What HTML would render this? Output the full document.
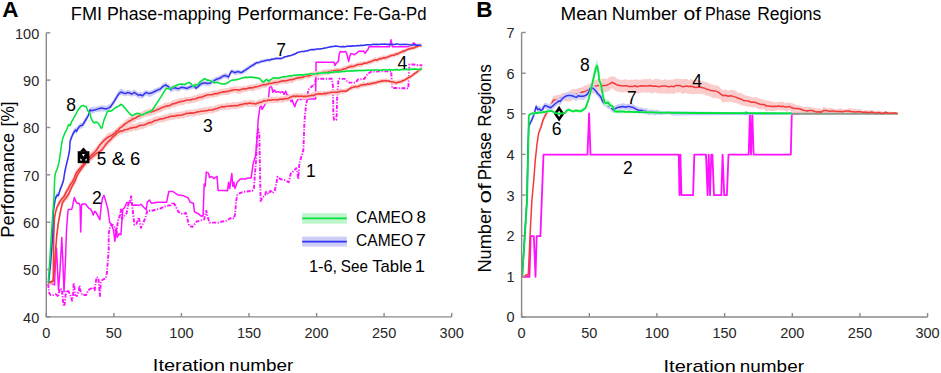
<!DOCTYPE html><html><head><meta charset="utf-8"><style>html,body{margin:0;padding:0;background:#fff;width:941px;height:373px;overflow:hidden}svg{display:block}</style></head><body>
<svg width="941" height="373" viewBox="0 0 941 373" font-family='"Liberation Sans", sans-serif'>
<rect width="941" height="373" fill="#fff"/>
<g fill="none" stroke-linejoin="round" stroke-linecap="butt">
<path d="M48.1,283.8 L49.3,293.2 L50.6,295.0 L53.4,295.0 L55.3,294.1 L57.1,295.0 L58.1,296.9 L59.9,288.5 L61.8,289.4 L62.8,298.8 L63.7,306.3 L64.6,304.4 L65.6,295.0 L66.5,290.3 L68.4,291.3 L70.3,295.0 L72.1,300.7 L73.1,295.0 L73.6,282.8 L74.4,287.5 L75.0,295.0 L76.8,296.0 L78.7,291.3 L79.6,285.6 L80.6,292.2 L82.5,295.0 L86.2,295.0 L88.1,290.3 L90.9,288.5 L92.8,287.5 L94.7,290.3 L96.5,277.2 L98.4,278.1 L99.9,296.0 L100.8,282.8 L102.2,280.0 L104.0,279.1 L105.9,278.1 L106.9,272.5 L107.8,261.3 L108.7,250.0 L108.7,233.8 L109.7,228.2 L111.5,224.4 L113.4,225.3 L115.3,228.2 L116.2,235.7 L117.2,226.3 L118.1,220.6 L120.0,215.0 L120.9,209.4 L121.9,218.8 L123.7,216.9 L126.6,213.1 L128.4,203.8 L130.3,200.0 L131.2,196.3 L132.3,206.5 L134.4,224.7 L136.6,223.6 L138.7,217.2 L140.9,227.9 L143.0,223.6 L145.2,218.3 L147.3,210.8 L151.6,210.8 L155.9,209.7 L160.2,208.6 L164.5,206.5 L168.8,205.4 L170.9,205.4 L173.0,202.2 L175.2,205.4 L178.4,211.8 L182.7,214.0 L185.9,212.9 L189.1,225.8 L192.4,226.9 L196.7,221.5 L200.9,220.4 L204.2,219.4 L206.3,210.8 L207.4,216.1 L209.5,222.6 L218.1,222.6 L220.0,221.9 L226.4,220.8 L229.7,218.7 L231.8,217.6 L233.9,218.7 L235.0,214.4 L236.1,201.5 L237.2,195.1 L240.4,192.9 L243.6,191.8 L252.2,190.8 L253.9,188.6 L254.8,175.8 L256.1,160.0 L257.2,135.0 L258.1,129.0 L259.3,134.4 L260.6,201.0 L262.9,197.2 L265.1,195.1 L266.1,191.8 L268.3,194.0 L270.4,190.8 L272.6,192.9 L274.7,190.8 L276.2,184.3 L277.5,176.8 L280.1,179.0 L284.4,180.0 L288.7,182.2 L290.8,173.6 L293.0,171.5 L296.2,168.2 L297.3,171.5 L298.3,179.0 L299.4,162.9 L301.5,156.4 L303.4,150.0 L304.4,122.4 L305.0,115.0 L306.1,104.0 L307.2,99.7 L308.2,90.0 L310.4,87.9 L312.5,85.7 L314.7,85.2 L315.7,78.8 L331.8,78.8 L332.9,85.7 L333.4,115.0 L334.0,119.8 L336.2,119.8 L336.7,115.0 L337.2,96.5 L338.3,81.4 L339.3,78.8 L345.0,78.9 L347.2,81.5 L349.3,82.6 L355.8,82.6 L357.9,79.4 L364.3,78.9 L367.6,74.0 L370.8,71.8 L383.6,71.2 L391.2,71.2 L392.2,87.9 L408.3,88.4 L409.4,64.5 L413.7,64.5 L418.0,65.2 L422.3,65.2" stroke="#ff10ff" stroke-width="1.9" stroke-dasharray="4 1.5 1.2 1.5"/>
<path d="M48.3,283.0 L53.0,284.0 L54.5,285.0 L55.5,262.0 L56.5,248.0 L57.5,270.0 L58.5,290.0 L60.0,270.0 L61.8,237.5 L63.0,265.0 L64.0,292.0 L65.5,260.0 L66.5,230.0 L67.9,212.0 L68.3,209.6 L71.8,209.2 L72.6,205.8 L74.3,197.6 L75.6,200.6 L76.9,203.2 L79.0,203.2 L80.1,205.8 L80.7,231.9 L81.5,206.0 L82.0,204.0 L85.5,204.0 L87.2,206.2 L88.9,208.3 L90.6,209.2 L92.0,211.5 L93.2,215.0 L94.7,211.3 L96.5,213.1 L98.4,216.9 L99.9,219.7 L101.2,205.6 L102.5,198.1 L104.0,195.3 L105.9,201.9 L107.8,208.5 L109.7,222.5 L111.5,224.4 L113.4,230.0 L114.9,241.3 L116.2,228.2 L117.2,237.5 L119.0,233.8 L120.9,234.7 L122.8,209.4 L124.7,207.5 L126.6,202.8 L130.3,201.9 L133.1,205.6 L136.0,205.0 L138.7,205.4 L140.9,204.3 L143.0,206.5 L146.2,209.7 L147.3,202.2 L149.4,200.0 L151.6,203.3 L158.0,202.2 L166.6,202.2 L168.8,191.5 L173.0,191.5 L177.3,194.7 L183.8,195.8 L188.1,197.9 L190.2,202.2 L193.4,203.3 L194.5,211.8 L198.8,214.0 L200.9,216.1 L203.1,216.1 L204.2,183.9 L205.2,186.1 L206.3,172.1 L208.5,173.2 L209.5,177.5 L211.7,176.4 L213.8,178.6 L217.0,176.4 L218.1,190.4 L226.7,190.4 L227.5,190.8 L228.6,182.2 L229.7,188.6 L231.8,173.6 L232.9,186.5 L233.9,182.2 L235.0,188.6 L237.2,182.2 L240.4,179.0 L245.8,179.0 L247.9,177.9 L251.1,177.9 L252.2,170.4 L253.3,162.9 L254.3,159.7 L255.4,156.4 L256.1,150.0 L257.4,133.0 L258.3,118.0 L258.9,115.0 L259.9,107.2 L261.0,106.1 L262.1,109.3 L263.2,107.2 L264.8,105.0 L266.8,101.0 L268.5,98.1 L269.6,87.3 L270.5,86.5 L271.8,87.3 L272.8,92.2 L274.4,90.0 L276.0,92.2 L278.2,91.6 L280.3,92.7 L282.5,91.6 L284.1,94.3 L285.7,91.1 L286.8,94.8 L288.5,95.5 L290.0,98.6 L291.1,101.8 L292.1,99.7 L293.2,102.9 L294.8,106.7 L296.4,101.8 L298.6,98.6 L300.7,99.7 L302.9,98.6 L306.1,99.1 L315.6,99.1 L316.1,62.2 L334.0,62.2 L335.1,65.4 L336.7,62.7 L338.3,61.6 L339.3,53.6 L340.4,51.4 L342.9,51.9 L345.8,51.4 L347.2,55.3 L348.7,61.6 L349.7,56.3 L351.1,53.4 L352.5,53.9 L354.0,54.8 L355.4,53.9 L356.9,52.9 L358.3,51.4 L360.3,51.0 L362.2,51.4 L363.6,51.0 L365.1,53.4 L366.5,51.0 L368.0,49.5 L369.0,46.8 L389.6,46.8 L391.0,39.8 L392.5,46.8 L409.5,46.8 L411.4,45.2 L413.8,42.8 L415.3,44.2 L417.2,45.2 L421.5,46.6" stroke="#ff10ff" stroke-width="1.5"/>
</g>
<path d="M48.2,281.8 L49.9,281.3 L51.7,280.4 L53.4,278.6 L54.5,266.0 L55.2,252.6 L56.8,231.9 L58.4,219.6 L60.9,205.8 L62.4,199.1 L64.0,196.7 L65.7,194.8 L67.3,192.1 L68.9,190.2 L70.8,185.9 L72.6,181.7 L75.6,176.8 L76.9,172.4 L78.6,169.6 L80.3,166.8 L82.0,164.3 L83.8,162.0 L85.9,158.8 L88.1,157.3 L89.8,155.8 L91.5,153.7 L93.2,152.6 L95.3,150.8 L97.5,148.8 L99.7,147.5 L101.8,146.5 L103.9,143.2 L106.1,140.6 L107.9,138.4 L109.7,136.5 L111.5,135.5 L113.3,132.5 L115.0,131.5 L116.8,130.0 L118.9,128.0 L121.1,127.5 L122.9,127.4 L124.7,126.1 L126.5,126.0 L128.3,125.6 L130.0,124.8 L131.8,124.0 L133.6,124.3 L135.4,123.8 L137.2,122.8 L139.0,122.2 L140.8,122.2 L142.6,121.8 L144.3,121.5 L146.0,120.6 L147.7,119.7 L149.3,119.1 L150.9,119.0 L152.6,118.1 L154.2,116.8 L155.9,116.5 L157.6,116.6 L159.3,116.1 L161.1,115.7 L162.8,115.0 L164.5,114.3 L166.2,114.4 L167.9,113.9 L169.6,112.7 L171.3,112.8 L173.0,112.7 L174.7,112.7 L176.4,112.0 L178.2,111.7 L179.9,111.8 L181.6,111.5 L183.3,111.2 L185.0,110.5 L186.8,109.7 L188.5,110.5 L190.2,109.0 L191.9,109.9 L193.6,109.3 L195.4,109.2 L197.1,108.6 L198.8,108.4 L200.9,108.0 L202.9,107.6 L205.0,106.9 L206.9,107.5 L208.8,106.4 L210.6,106.1 L212.5,106.9 L214.1,106.0 L215.8,104.9 L217.4,105.1 L219.0,103.9 L220.6,104.3 L222.2,103.0 L223.8,104.2 L225.4,103.3 L227.0,102.5 L228.6,102.8 L230.2,103.0 L231.8,102.8 L233.4,102.1 L235.1,102.2 L236.7,102.3 L238.3,101.8 L240.2,101.4 L242.2,101.5 L244.1,100.2 L246.0,100.4 L247.8,100.8 L249.6,100.2 L251.4,99.9 L253.6,99.9 L255.7,101.3 L257.9,99.8 L260.0,99.0 L261.8,99.2 L263.5,97.6 L265.3,98.0 L267.1,97.7 L268.9,96.9 L270.7,97.1 L272.5,96.6 L274.2,97.2 L276.0,96.5 L277.8,96.7 L279.6,96.7 L281.4,95.9 L283.2,96.4 L285.0,95.6 L286.8,95.3 L288.6,95.3 L290.3,94.5 L292.1,94.2 L293.9,93.1 L295.7,93.6 L297.5,92.7 L299.3,93.7 L301.1,93.0 L302.9,93.8 L304.7,93.2 L306.4,93.5 L308.2,93.7 L310.0,93.2 L311.8,92.6 L313.6,92.3 L315.4,91.4 L317.2,90.9 L319.0,90.8 L320.8,91.2 L322.5,91.4 L324.3,90.4 L326.1,91.4 L327.9,90.5 L329.7,90.4 L331.5,90.0 L333.3,89.5 L335.1,90.1 L336.9,90.1 L338.6,89.7 L340.4,88.2 L342.3,89.1 L344.1,88.9 L346.0,88.3 L347.9,87.9 L349.7,86.5 L351.6,84.6 L353.5,85.0 L355.3,84.3 L357.1,84.5 L359.0,83.3 L360.9,83.2 L362.7,82.2 L364.3,81.7 L365.9,82.8 L367.5,81.5 L369.2,81.5 L370.8,81.1 L372.4,81.2 L374.0,80.4 L375.9,80.8 L377.7,79.8 L379.6,79.2 L381.5,78.8 L383.3,78.5 L385.2,78.8 L386.9,78.6 L388.5,79.0 L390.2,79.6 L391.9,79.5 L394.1,79.7 L396.4,80.7 L398.6,79.5 L400.9,79.5 L402.6,78.8 L404.2,78.7 L405.9,76.8 L407.6,75.9 L409.3,75.5 L411.0,74.0 L412.6,73.0 L414.3,71.7 L416.2,70.5 L418.1,69.4 L420.1,67.2 L422.0,66.5 L422.0,69.7 L420.1,71.7 L418.1,73.2 L416.2,74.4 L414.3,75.4 L412.6,77.1 L411.0,78.9 L409.3,79.5 L407.6,80.2 L405.9,81.1 L404.2,82.1 L402.6,83.3 L400.9,83.8 L398.6,84.3 L396.4,85.2 L394.1,84.7 L391.9,84.4 L390.2,83.6 L388.5,82.6 L386.9,83.5 L385.2,83.0 L383.3,83.1 L381.5,83.8 L379.6,83.8 L377.7,83.9 L375.9,85.5 L374.0,84.9 L372.4,85.4 L370.8,86.3 L369.2,86.2 L367.5,86.5 L365.9,87.3 L364.3,86.8 L362.7,87.7 L360.9,87.5 L359.0,89.0 L357.1,89.1 L355.3,88.7 L353.5,89.6 L351.6,90.2 L349.7,90.8 L347.9,92.1 L346.0,93.3 L344.1,93.7 L342.3,94.2 L340.4,93.9 L338.6,94.9 L336.9,95.1 L335.1,95.0 L333.3,95.0 L331.5,94.4 L329.7,95.8 L327.9,95.5 L326.1,96.6 L324.3,96.5 L322.5,96.2 L320.8,96.4 L319.0,96.4 L317.2,96.5 L315.4,97.1 L313.6,98.0 L311.8,98.1 L310.0,98.3 L308.2,98.9 L306.4,99.7 L304.7,98.9 L302.9,99.8 L301.1,98.7 L299.3,99.8 L297.5,98.6 L295.7,99.1 L293.9,98.7 L292.1,99.3 L290.3,100.0 L288.6,101.3 L286.8,101.7 L285.0,101.6 L283.2,102.7 L281.4,102.5 L279.6,102.3 L277.8,102.9 L276.0,103.1 L274.2,102.9 L272.5,103.3 L270.7,103.3 L268.9,103.2 L267.1,104.1 L265.3,104.2 L263.5,103.5 L261.8,105.3 L260.0,105.6 L257.9,106.5 L255.7,107.3 L253.6,106.8 L251.4,106.7 L249.6,106.7 L247.8,106.9 L246.0,106.5 L244.1,106.8 L242.2,107.9 L240.2,108.1 L238.3,108.4 L236.7,109.5 L235.1,108.9 L233.4,109.4 L231.8,108.7 L230.2,109.4 L228.6,110.0 L227.0,109.5 L225.4,110.1 L223.8,110.5 L222.2,109.9 L220.6,110.3 L219.0,111.1 L217.4,112.1 L215.8,112.0 L214.1,113.1 L212.5,113.3 L210.6,113.2 L208.8,113.0 L206.9,114.2 L205.0,114.5 L202.9,114.8 L200.9,115.2 L198.8,115.8 L197.1,115.1 L195.4,116.3 L193.6,116.8 L191.9,116.2 L190.2,116.0 L188.5,117.1 L186.8,117.2 L185.0,117.5 L183.3,118.4 L181.6,118.3 L179.9,118.7 L178.2,119.3 L176.4,118.8 L174.7,119.2 L173.0,120.1 L171.3,119.7 L169.6,120.3 L167.9,120.7 L166.2,121.2 L164.5,121.6 L162.8,122.7 L161.1,122.3 L159.3,122.6 L157.6,123.2 L155.9,124.3 L154.2,124.2 L152.6,126.0 L150.9,126.3 L149.3,125.6 L147.7,126.9 L146.0,127.6 L144.3,128.5 L142.6,129.2 L140.8,129.3 L139.0,129.8 L137.2,130.4 L135.4,131.1 L133.6,130.5 L131.8,131.5 L130.0,131.8 L128.3,132.2 L126.5,133.3 L124.7,132.7 L122.9,134.1 L121.1,134.2 L118.9,135.2 L116.8,137.1 L115.0,138.6 L113.3,140.1 L111.5,141.8 L109.7,143.8 L107.9,145.8 L106.1,147.0 L103.9,150.5 L101.8,153.3 L99.7,155.3 L97.5,156.0 L95.3,157.4 L93.2,159.7 L91.5,160.8 L89.8,162.9 L88.1,163.6 L85.9,166.2 L83.8,168.6 L82.0,171.0 L80.3,173.6 L78.6,176.2 L76.9,179.1 L75.6,183.9 L72.6,188.3 L70.8,192.5 L68.9,197.4 L67.3,199.8 L65.7,201.6 L64.0,203.6 L62.4,206.5 L60.9,213.2 L58.4,225.5 L56.8,237.6 L55.2,257.4 L54.5,270.0 L53.4,283.5 L51.7,283.3 L49.9,283.4 L48.2,284.0 Z" fill="#fbcccc"/>
<path d="M48.2,282.2 L49.9,281.2 L51.5,279.7 L53.2,279.4 L53.5,255.5 L53.7,235.0 L54.4,216.3 L55.5,209.7 L56.8,204.7 L58.3,201.6 L60.0,198.1 L62.0,195.6 L64.1,193.0 L66.6,188.1 L68.3,185.6 L70.0,181.3 L71.8,179.1 L73.5,177.0 L76.0,169.9 L78.2,167.1 L80.3,164.3 L82.0,162.9 L83.8,159.8 L85.5,158.0 L87.2,156.2 L89.3,153.5 L91.5,151.5 L93.2,149.9 L94.9,148.5 L96.6,146.4 L98.7,143.5 L100.7,140.9 L102.8,138.0 L105.0,136.6 L107.2,133.8 L109.3,132.6 L111.1,132.3 L112.9,131.3 L114.7,130.0 L116.5,128.0 L118.2,127.0 L120.0,124.2 L121.8,123.6 L123.6,122.1 L125.4,119.7 L127.2,119.1 L129.0,117.3 L130.8,116.5 L132.6,115.5 L134.3,115.3 L136.1,114.7 L137.7,112.6 L139.3,112.6 L140.9,112.2 L142.5,111.4 L144.1,110.3 L145.7,109.8 L147.3,109.5 L149.2,108.5 L151.1,108.7 L152.9,107.8 L154.8,107.1 L156.7,106.8 L158.5,105.6 L160.3,105.0 L162.1,104.4 L163.9,103.2 L165.7,102.5 L167.5,102.5 L169.3,102.1 L171.0,101.8 L172.8,100.0 L174.6,99.9 L176.4,99.0 L178.2,98.7 L180.0,98.0 L181.8,97.7 L183.6,97.9 L185.4,96.6 L187.1,97.0 L188.9,96.7 L190.7,96.7 L192.5,95.8 L194.3,95.6 L196.1,95.2 L197.8,94.2 L199.6,93.6 L201.4,93.6 L203.2,93.0 L205.0,92.2 L206.8,91.9 L208.6,91.7 L210.4,91.4 L212.2,90.8 L213.9,90.3 L215.7,90.3 L217.5,90.5 L219.3,89.3 L221.1,89.3 L222.9,88.8 L224.7,88.4 L226.5,88.1 L228.3,88.3 L230.0,87.1 L231.8,87.3 L233.6,86.5 L235.4,86.1 L237.2,86.5 L239.0,86.4 L240.7,86.8 L242.5,86.1 L244.2,85.8 L246.0,86.2 L247.8,84.8 L249.6,84.7 L251.4,84.4 L253.2,84.2 L254.9,84.1 L256.7,83.2 L258.5,83.7 L260.3,82.7 L262.1,82.3 L263.9,81.0 L265.7,82.0 L267.5,81.4 L269.3,80.0 L271.0,80.2 L272.8,79.6 L274.6,79.4 L276.4,79.1 L278.2,79.6 L280.0,78.6 L281.8,78.4 L283.6,77.6 L285.4,78.2 L287.1,77.6 L288.9,77.3 L290.7,76.5 L292.5,77.2 L294.3,76.4 L296.1,75.7 L297.8,74.9 L299.6,74.5 L301.4,74.3 L303.2,73.7 L305.0,74.0 L306.8,72.6 L308.6,73.6 L310.4,72.2 L312.2,71.9 L313.9,71.2 L315.7,71.1 L317.5,71.5 L319.3,70.7 L321.1,70.8 L322.9,69.6 L324.7,69.4 L326.5,69.3 L328.3,69.2 L330.1,69.3 L331.9,68.9 L333.6,68.2 L335.4,67.8 L337.2,67.9 L340.0,67.9 L341.6,67.3 L343.2,66.2 L344.9,65.8 L346.5,66.2 L348.1,64.9 L349.7,64.1 L351.3,63.5 L352.9,63.8 L354.5,63.7 L356.1,62.9 L357.7,61.9 L359.3,61.9 L360.9,61.6 L362.5,62.2 L364.1,60.7 L365.8,61.4 L367.4,60.2 L369.0,59.9 L370.6,59.4 L372.2,59.2 L373.8,57.8 L375.4,57.2 L377.0,58.1 L378.6,57.4 L380.2,56.3 L381.8,56.2 L383.5,55.1 L385.1,55.6 L386.7,55.5 L388.3,54.4 L390.2,53.8 L392.1,53.2 L394.1,52.8 L396.0,51.5 L397.9,51.8 L399.5,51.1 L401.1,50.5 L402.7,49.1 L404.3,49.3 L406.0,48.5 L407.6,47.5 L410.0,46.4 L412.4,45.7 L414.0,46.1 L415.6,45.0 L417.2,44.3 L419.4,43.3 L421.5,43.1 L421.5,47.3 L419.4,47.3 L417.2,48.5 L415.6,49.3 L414.0,49.6 L412.4,50.0 L410.0,50.8 L407.6,51.1 L406.0,52.2 L404.3,53.6 L402.7,53.9 L401.1,54.1 L399.5,55.1 L397.9,56.5 L396.0,56.2 L394.1,57.2 L392.1,57.5 L390.2,58.0 L388.3,59.1 L386.7,59.9 L385.1,60.4 L383.5,59.8 L381.8,60.6 L380.2,61.2 L378.6,61.7 L377.0,62.8 L375.4,61.7 L373.8,62.8 L372.2,63.5 L370.6,64.1 L369.0,64.7 L367.4,64.7 L365.8,65.8 L364.1,65.1 L362.5,66.6 L360.9,67.2 L359.3,66.9 L357.7,66.7 L356.1,68.0 L354.5,68.3 L352.9,69.4 L351.3,69.0 L349.7,68.9 L348.1,69.6 L346.5,70.8 L344.9,71.3 L343.2,72.1 L341.6,72.6 L340.0,73.3 L337.2,73.0 L335.4,73.5 L333.6,73.9 L331.9,74.1 L330.1,74.2 L328.3,75.2 L326.5,74.9 L324.7,74.8 L322.9,75.4 L321.1,75.8 L319.3,76.2 L317.5,76.9 L315.7,76.7 L313.9,76.8 L312.2,76.9 L310.4,78.0 L308.6,78.8 L306.8,78.7 L305.0,78.8 L303.2,80.1 L301.4,80.4 L299.6,80.6 L297.8,80.5 L296.1,80.6 L294.3,81.9 L292.5,83.0 L290.7,82.7 L288.9,83.3 L287.1,83.9 L285.4,84.0 L283.6,83.4 L281.8,84.3 L280.0,84.0 L278.2,85.6 L276.4,85.9 L274.6,85.2 L272.8,85.6 L271.0,86.2 L269.3,86.3 L267.5,87.1 L265.7,87.8 L263.9,87.9 L262.1,88.1 L260.3,89.2 L258.5,89.4 L256.7,89.8 L254.9,90.5 L253.2,91.4 L251.4,91.2 L249.6,90.6 L247.8,91.1 L246.0,92.2 L244.2,92.2 L242.5,92.5 L240.7,93.4 L239.0,93.8 L237.2,93.4 L235.4,92.7 L233.6,92.9 L231.8,93.3 L230.0,94.1 L228.3,95.0 L226.5,95.2 L224.7,94.9 L222.9,94.9 L221.1,95.5 L219.3,95.9 L217.5,97.1 L215.7,96.7 L213.9,97.8 L212.2,97.6 L210.4,97.8 L208.6,98.5 L206.8,98.7 L205.0,98.9 L203.2,100.3 L201.4,100.5 L199.6,100.9 L197.8,101.6 L196.1,102.4 L194.3,102.7 L192.5,102.7 L190.7,103.3 L188.9,103.9 L187.1,103.2 L185.4,103.7 L183.6,104.9 L181.8,105.2 L180.0,105.3 L178.2,106.1 L176.4,106.2 L174.6,107.5 L172.8,107.0 L171.0,108.4 L169.3,109.3 L167.5,109.1 L165.7,109.4 L163.9,110.6 L162.1,111.4 L160.3,112.4 L158.5,112.6 L156.7,113.2 L154.8,114.3 L152.9,115.1 L151.1,115.8 L149.2,116.1 L147.3,116.6 L145.7,117.1 L144.1,117.3 L142.5,118.1 L140.9,118.7 L139.3,119.8 L137.7,119.8 L136.1,120.7 L134.3,122.4 L132.6,122.6 L130.8,124.0 L129.0,124.4 L127.2,126.3 L125.4,127.3 L123.6,128.6 L121.8,130.2 L120.0,131.4 L118.2,133.2 L116.5,134.4 L114.7,136.7 L112.9,137.7 L111.1,139.7 L109.3,139.9 L107.2,140.9 L105.0,142.9 L102.8,145.6 L100.7,147.8 L98.7,150.2 L96.6,153.2 L94.9,155.6 L93.2,156.7 L91.5,158.8 L89.3,160.4 L87.2,162.8 L85.5,165.1 L83.8,167.4 L82.0,169.8 L80.3,171.5 L78.2,174.6 L76.0,176.7 L73.5,183.5 L71.8,185.6 L70.0,188.7 L68.3,191.7 L66.6,195.1 L64.1,200.2 L62.0,201.9 L60.0,205.2 L58.3,207.3 L56.8,211.1 L55.5,214.5 L54.4,221.4 L53.7,238.8 L53.5,260.4 L53.2,283.2 L51.5,283.5 L49.9,284.1 L48.2,284.4 Z" fill="#fbcccc"/>
<g fill="none" stroke-linejoin="round" stroke-linecap="butt">
<path d="M48.2,283.0 L49.9,282.3 L51.7,281.8 L53.4,281.0 L54.5,268.0 L55.2,255.0 L56.8,235.2 L58.4,222.3 L60.9,209.5 L62.4,202.8 L64.0,200.3 L65.7,198.2 L67.3,196.0 L68.9,193.5 L70.8,189.0 L72.6,185.2 L75.6,180.0 L76.9,175.8 L78.6,172.8 L80.3,170.6 L82.0,167.9 L83.8,165.5 L85.9,162.7 L88.1,160.3 L89.8,159.1 L91.5,157.6 L93.2,156.0 L95.3,154.4 L97.5,152.6 L99.7,151.4 L101.8,150.0 L103.9,147.1 L106.1,144.0 L107.9,141.9 L109.7,140.3 L111.5,138.6 L113.3,136.5 L115.0,135.4 L116.8,133.2 L118.9,131.8 L121.1,131.1 L122.9,130.9 L124.7,129.7 L126.5,129.5 L128.3,129.1 L130.0,128.3 L131.8,127.9 L133.6,127.4 L135.4,127.5 L137.2,126.8 L139.0,125.8 L140.8,125.3 L142.6,125.2 L144.3,125.0 L146.0,124.1 L147.7,123.5 L149.3,122.5 L150.9,122.7 L152.6,122.0 L154.2,120.7 L155.9,120.4 L157.6,119.9 L159.3,119.2 L161.1,118.9 L162.8,118.7 L164.5,118.2 L166.2,117.5 L167.9,117.5 L169.6,116.5 L171.3,116.2 L173.0,116.1 L174.7,116.2 L176.4,115.6 L178.2,115.4 L179.9,115.3 L181.6,115.0 L183.3,114.6 L185.0,114.1 L186.8,113.3 L188.5,113.5 L190.2,112.9 L191.9,113.1 L193.6,112.9 L195.4,112.4 L197.1,111.9 L198.8,111.8 L200.9,111.3 L202.9,111.3 L205.0,110.8 L206.9,110.8 L208.8,110.1 L210.6,110.0 L212.5,110.0 L214.1,109.3 L215.8,108.8 L217.4,108.5 L219.0,107.6 L220.6,107.3 L222.2,106.6 L223.8,107.1 L225.4,106.5 L227.0,106.3 L228.6,106.2 L230.2,105.8 L231.8,105.9 L233.4,105.7 L235.1,105.5 L236.7,105.8 L238.3,105.4 L240.2,104.6 L242.2,104.5 L244.1,103.7 L246.0,103.5 L247.8,103.6 L249.6,103.0 L251.4,103.4 L253.6,103.5 L255.7,104.0 L257.9,103.1 L260.0,102.4 L261.8,102.0 L263.5,100.9 L265.3,100.8 L267.1,100.6 L268.9,100.1 L270.7,100.2 L272.5,99.8 L274.2,99.8 L276.0,99.7 L277.8,99.9 L279.6,99.3 L281.4,99.1 L283.2,99.4 L285.0,98.5 L286.8,98.7 L288.6,98.4 L290.3,97.2 L292.1,96.6 L293.9,96.1 L295.7,96.4 L297.5,96.0 L299.3,96.6 L301.1,96.0 L302.9,96.6 L304.7,96.2 L306.4,96.4 L308.2,96.0 L310.0,95.7 L311.8,95.4 L313.6,95.5 L315.4,94.5 L317.2,94.0 L319.0,93.9 L320.8,93.8 L322.5,94.0 L324.3,93.4 L326.1,93.6 L327.9,93.0 L329.7,92.8 L331.5,92.2 L333.3,92.3 L335.1,92.3 L336.9,92.2 L338.6,91.9 L340.4,91.2 L342.3,91.3 L344.1,91.0 L346.0,91.2 L347.9,90.0 L349.7,88.7 L351.6,87.5 L353.5,87.2 L355.3,86.5 L357.1,86.7 L359.0,86.2 L360.9,85.1 L362.7,85.0 L364.3,84.5 L365.9,84.7 L367.5,83.9 L369.2,84.2 L370.8,83.5 L372.4,83.4 L374.0,82.9 L375.9,82.7 L377.7,81.9 L379.6,81.6 L381.5,81.1 L383.3,81.1 L385.2,80.6 L386.9,81.0 L388.5,80.8 L390.2,81.8 L391.9,81.7 L394.1,82.2 L396.4,82.9 L398.6,82.1 L400.9,81.7 L402.6,80.8 L404.2,80.4 L405.9,79.2 L407.6,78.3 L409.3,77.3 L411.0,76.4 L412.6,75.3 L414.3,73.8 L416.2,72.6 L418.1,70.9 L420.1,69.6 L422.0,68.1" stroke="#f23a3a" stroke-width="1.6"/>
<path d="M48.2,283.0 L49.9,282.3 L51.5,281.7 L53.2,281.0 L53.5,258.0 L53.7,237.0 L54.4,219.0 L55.5,212.0 L56.8,207.9 L58.3,204.5 L60.0,201.4 L62.0,198.8 L64.1,196.6 L66.6,191.2 L68.3,188.6 L70.0,185.2 L71.8,182.6 L73.5,180.0 L76.0,173.2 L78.2,170.6 L80.3,168.0 L82.0,165.9 L83.8,163.7 L85.5,161.3 L87.2,159.4 L89.3,157.3 L91.5,155.2 L93.2,153.6 L94.9,152.0 L96.6,150.0 L98.7,146.6 L100.7,144.0 L102.8,141.7 L105.0,139.7 L107.2,137.7 L109.3,136.5 L111.1,135.7 L112.9,134.5 L114.7,133.2 L116.5,131.0 L118.2,130.1 L120.0,127.9 L121.8,126.9 L123.6,125.2 L125.4,123.6 L127.2,122.6 L129.0,121.2 L130.8,120.4 L132.6,119.1 L134.3,118.6 L136.1,117.7 L137.7,116.5 L139.3,116.1 L140.9,115.2 L142.5,114.6 L144.1,113.8 L145.7,113.5 L147.3,112.9 L149.2,112.3 L151.1,112.0 L152.9,111.2 L154.8,110.7 L156.7,110.0 L158.5,109.2 L160.3,108.5 L162.1,107.6 L163.9,107.0 L165.7,106.3 L167.5,105.9 L169.3,105.6 L171.0,104.9 L172.8,103.8 L174.6,103.6 L176.4,102.9 L178.2,102.2 L180.0,101.7 L181.8,101.2 L183.6,101.1 L185.4,100.5 L187.1,100.0 L188.9,100.0 L190.7,99.9 L192.5,99.2 L194.3,99.0 L196.1,98.8 L197.8,97.8 L199.6,97.4 L201.4,97.3 L203.2,96.6 L205.0,95.8 L206.8,95.0 L208.6,94.8 L210.4,94.7 L212.2,94.7 L213.9,93.9 L215.7,93.6 L217.5,93.7 L219.3,92.8 L221.1,92.5 L222.9,91.8 L224.7,91.9 L226.5,91.5 L228.3,91.4 L230.0,90.6 L231.8,90.4 L233.6,89.8 L235.4,89.8 L237.2,89.8 L239.0,90.1 L240.7,89.7 L242.5,89.0 L244.2,88.9 L246.0,89.0 L247.8,88.3 L249.6,87.9 L251.4,87.9 L253.2,87.8 L254.9,86.9 L256.7,86.8 L258.5,86.3 L260.3,85.7 L262.1,85.2 L263.9,84.6 L265.7,84.7 L267.5,84.1 L269.3,83.4 L271.0,83.5 L272.8,83.0 L274.6,82.4 L276.4,82.5 L278.2,82.3 L280.0,81.5 L281.8,81.1 L283.6,80.8 L285.4,81.0 L287.1,80.5 L288.9,80.0 L290.7,79.5 L292.5,79.6 L294.3,78.9 L296.1,78.2 L297.8,77.9 L299.6,77.6 L301.4,77.5 L303.2,76.9 L305.0,76.3 L306.8,75.6 L308.6,76.0 L310.4,75.2 L312.2,74.5 L313.9,74.2 L315.7,74.0 L317.5,74.0 L319.3,73.3 L321.1,73.0 L322.9,72.5 L324.7,72.3 L326.5,72.4 L328.3,72.1 L330.1,71.4 L331.9,71.4 L333.6,70.8 L335.4,70.5 L337.2,70.2 L340.0,70.3 L341.6,70.1 L343.2,69.2 L344.9,68.7 L346.5,68.4 L348.1,67.2 L349.7,66.9 L351.3,66.2 L352.9,66.5 L354.5,66.0 L356.1,65.1 L357.7,64.6 L359.3,64.5 L360.9,64.3 L362.5,64.1 L364.1,63.0 L365.8,63.3 L367.4,62.8 L369.0,62.1 L370.6,61.7 L372.2,61.1 L373.8,60.3 L375.4,59.8 L377.0,60.1 L378.6,59.2 L380.2,58.6 L381.8,58.6 L383.5,57.8 L385.1,57.9 L386.7,57.3 L388.3,56.8 L390.2,56.0 L392.1,55.3 L394.1,55.3 L396.0,54.1 L397.9,53.9 L399.5,52.8 L401.1,52.3 L402.7,51.4 L404.3,51.1 L406.0,50.2 L407.6,49.5 L410.0,48.6 L412.4,48.1 L414.0,48.0 L415.6,46.8 L417.2,46.6 L419.4,45.6 L421.5,45.5" stroke="#f23a3a" stroke-width="1.6"/>
</g>
<path d="M48.5,282.3 L50.5,264.0 L52.4,238.7 L53.3,209.7 L54.2,203.9 L55.0,198.4 L55.9,194.9 L57.2,192.1 L58.4,192.5 L60.2,186.3 L61.9,181.9 L63.6,177.0 L64.3,171.5 L64.9,168.1 L66.6,160.9 L68.3,153.8 L69.6,147.0 L70.1,138.5 L71.8,133.4 L73.9,128.8 L75.5,127.3 L76.6,128.2 L78.2,125.1 L80.3,122.8 L82.5,122.7 L84.1,119.4 L85.7,117.1 L87.3,114.0 L88.4,112.7 L90.0,106.9 L91.1,107.6 L93.2,106.8 L95.4,106.7 L97.5,106.3 L99.6,105.7 L101.8,105.0 L103.9,105.7 L106.1,105.8 L108.2,104.8 L110.4,103.8 L112.5,101.1 L114.7,97.3 L116.8,93.4 L119.0,90.2 L121.1,88.5 L123.3,89.8 L125.4,90.7 L127.5,89.8 L129.7,89.9 L131.8,91.0 L134.0,89.3 L136.1,90.5 L138.3,92.5 L140.4,91.8 L142.6,92.5 L144.3,90.6 L146.0,89.9 L149.2,90.9 L151.4,90.5 L154.6,88.4 L156.2,88.0 L157.8,87.4 L160.0,86.5 L163.2,83.7 L165.8,81.8 L167.5,83.7 L169.1,83.9 L170.7,86.9 L172.3,84.9 L175.0,85.2 L178.2,86.2 L179.8,85.8 L181.4,84.7 L184.6,85.4 L186.2,85.5 L187.8,85.9 L189.4,84.7 L191.1,83.7 L192.7,83.9 L194.3,83.2 L195.9,85.2 L198.6,83.0 L200.2,81.8 L201.8,80.4 L203.9,80.6 L205.6,80.7 L207.2,80.4 L208.8,80.2 L210.4,80.3 L212.5,78.8 L215.7,77.1 L217.3,76.6 L219.0,75.7 L221.1,74.8 L223.3,73.7 L225.4,72.7 L228.6,74.2 L230.8,69.9 L231.8,68.9 L233.4,69.8 L235.1,70.4 L236.7,69.5 L238.3,69.4 L241.5,70.8 L243.6,69.0 L246.0,67.3 L249.2,65.2 L250.8,64.2 L252.4,63.7 L254.6,62.2 L256.7,60.9 L258.9,60.9 L261.0,59.5 L263.1,59.6 L265.3,58.8 L267.5,58.5 L269.6,58.9 L271.8,57.6 L273.9,58.0 L276.0,56.7 L278.2,57.2 L281.4,57.3 L283.0,56.5 L284.6,55.8 L286.8,55.4 L288.9,54.7 L291.0,54.7 L293.2,53.3 L295.4,52.8 L297.5,51.9 L299.6,50.9 L301.8,50.9 L304.0,50.3 L306.1,50.2 L308.2,49.4 L310.4,48.9 L312.2,48.6 L313.9,48.5 L315.7,48.7 L317.5,48.3 L319.3,48.5 L321.1,48.0 L322.9,47.7 L324.7,47.3 L326.5,46.7 L328.3,46.9 L330.0,45.7 L331.8,46.2 L333.6,46.0 L335.4,45.4 L337.2,45.8 L339.0,46.0 L340.8,46.1 L342.6,45.7 L344.4,45.9 L346.1,45.6 L347.9,45.3 L349.7,45.8 L351.3,45.3 L352.9,44.9 L354.5,45.2 L356.1,45.4 L357.7,44.8 L359.3,45.1 L360.9,44.4 L362.5,44.5 L364.1,44.1 L365.7,43.9 L367.4,43.9 L369.0,44.4 L370.6,44.1 L372.2,43.5 L373.8,43.7 L375.4,43.5 L377.0,43.8 L378.6,43.8 L380.2,44.0 L381.8,43.3 L383.5,44.0 L385.1,43.1 L386.7,44.2 L388.3,43.7 L389.9,43.5 L391.5,43.9 L393.1,43.6 L394.7,43.9 L396.3,43.1 L398.0,43.9 L399.6,43.6 L401.2,44.3 L402.8,43.9 L404.4,43.8 L406.0,43.7 L407.6,43.5 L409.3,44.7 L411.0,44.6 L412.7,44.1 L414.4,44.6 L416.0,45.1 L417.7,44.1 L419.4,44.3 L421.1,44.8 L421.1,46.0 L419.4,45.9 L417.7,45.5 L416.0,45.3 L414.4,45.4 L412.7,45.8 L411.0,46.0 L409.3,45.5 L407.6,44.6 L406.0,44.7 L404.4,44.8 L402.8,44.7 L401.2,45.2 L399.6,45.5 L398.0,44.5 L396.3,44.3 L394.7,44.8 L393.1,45.3 L391.5,45.2 L389.9,45.1 L388.3,44.5 L386.7,44.8 L385.1,44.6 L383.5,44.5 L381.8,45.2 L380.2,45.3 L378.6,45.3 L377.0,45.3 L375.4,45.3 L373.8,44.7 L372.2,45.5 L370.6,45.7 L369.0,45.8 L367.4,45.6 L365.7,45.6 L364.1,45.9 L362.5,46.4 L360.9,46.0 L359.3,46.3 L357.7,46.3 L356.1,47.0 L354.5,46.8 L352.9,46.1 L351.3,46.6 L349.7,47.1 L347.9,47.3 L346.1,46.9 L344.4,47.9 L342.6,47.5 L340.8,47.6 L339.0,47.2 L337.2,46.6 L335.4,47.2 L333.6,47.0 L331.8,47.8 L330.0,47.7 L328.3,48.1 L326.5,48.3 L324.7,49.1 L322.9,48.9 L321.1,49.7 L319.3,50.3 L317.5,50.0 L315.7,50.2 L313.9,50.8 L312.2,50.6 L310.4,50.1 L308.2,51.9 L306.1,51.4 L304.0,52.5 L301.8,51.8 L299.6,52.7 L297.5,53.1 L295.4,55.0 L293.2,55.2 L291.0,56.5 L288.9,56.9 L286.8,57.2 L284.6,58.2 L283.0,59.1 L281.4,60.0 L278.2,59.7 L276.0,59.5 L273.9,60.3 L271.8,60.8 L269.6,61.9 L267.5,61.7 L265.3,62.5 L263.1,62.4 L261.0,62.9 L258.9,64.5 L256.7,64.2 L254.6,66.4 L252.4,67.8 L250.8,67.9 L249.2,69.7 L246.0,72.3 L243.6,73.5 L241.5,74.6 L238.3,74.4 L236.7,74.4 L235.1,75.4 L233.4,73.9 L231.8,74.1 L230.8,74.5 L228.6,79.9 L225.4,78.1 L223.3,78.5 L221.1,79.9 L219.0,81.0 L217.3,82.0 L215.7,82.2 L212.5,84.2 L210.4,85.6 L208.8,86.1 L207.2,86.3 L205.6,85.8 L203.9,85.4 L201.8,86.2 L200.2,86.9 L198.6,88.8 L195.9,90.5 L194.3,88.5 L192.7,88.9 L191.1,89.4 L189.4,90.0 L187.8,90.5 L186.2,91.1 L184.6,90.1 L181.4,89.7 L179.8,91.1 L178.2,91.8 L175.0,90.7 L172.3,91.5 L170.7,92.5 L169.1,89.6 L167.5,88.5 L165.8,87.7 L163.2,88.8 L160.0,92.5 L157.8,92.2 L156.2,93.6 L154.6,94.5 L151.4,96.5 L149.2,96.9 L146.0,95.5 L144.3,96.8 L142.6,98.7 L140.4,97.7 L138.3,98.6 L136.1,96.6 L134.0,95.8 L131.8,96.7 L129.7,95.9 L127.5,95.6 L125.4,96.4 L123.3,95.7 L121.1,94.9 L119.0,96.7 L116.8,100.1 L114.7,103.5 L112.5,106.6 L110.4,109.6 L108.2,111.0 L106.1,111.8 L103.9,111.6 L101.8,111.4 L99.6,111.8 L97.5,112.0 L95.4,112.2 L93.2,113.5 L91.1,114.1 L90.0,112.6 L88.4,118.2 L87.3,120.6 L85.7,123.3 L84.1,125.9 L82.5,128.0 L80.3,129.1 L78.2,131.1 L76.6,134.3 L75.5,132.9 L73.9,135.1 L71.8,139.9 L70.1,144.3 L69.6,153.1 L68.3,159.7 L66.6,166.6 L64.9,174.2 L64.3,178.4 L63.6,182.6 L61.9,187.8 L60.2,192.2 L58.4,198.3 L57.2,197.6 L55.9,199.8 L55.0,203.0 L54.2,207.9 L53.3,214.1 L52.4,241.7 L50.5,266.6 L48.5,283.7 Z" fill="#cdcdf8"/>
<path d="M48.5,283.0 L50.5,265.0 L52.4,240.0 L53.3,212.0 L54.2,205.8 L55.0,200.6 L55.9,197.2 L57.2,195.0 L58.4,195.5 L60.2,189.4 L61.9,185.2 L63.6,180.0 L64.3,175.0 L64.9,171.5 L66.6,163.7 L68.3,156.9 L69.6,150.0 L70.1,141.3 L71.8,136.5 L73.9,132.2 L75.5,130.0 L76.6,131.1 L78.2,127.9 L80.3,125.7 L82.5,125.2 L84.1,122.5 L85.7,119.8 L87.3,117.1 L88.4,115.6 L90.0,109.7 L91.1,110.8 L93.2,110.2 L95.4,109.7 L97.5,109.1 L99.6,108.6 L101.8,108.1 L103.9,108.6 L106.1,109.1 L108.2,108.1 L110.4,107.0 L112.5,103.8 L114.7,100.6 L116.8,96.8 L119.0,93.6 L121.1,92.0 L123.3,93.0 L125.4,93.6 L127.5,92.5 L129.7,93.0 L131.8,94.1 L134.0,92.5 L136.1,93.6 L138.3,95.2 L140.4,94.7 L142.6,95.7 L144.3,93.9 L146.0,92.5 L149.2,93.6 L151.4,93.1 L154.6,91.5 L156.2,90.8 L157.8,89.8 L160.0,89.3 L163.2,86.1 L165.8,85.0 L167.5,86.1 L169.1,87.2 L170.7,89.8 L172.3,88.2 L175.0,87.7 L178.2,88.8 L179.8,88.1 L181.4,87.2 L184.6,87.7 L186.2,88.2 L187.8,88.2 L189.4,87.2 L191.1,86.6 L192.7,86.2 L194.3,86.1 L195.9,88.2 L198.6,86.1 L200.2,84.5 L201.8,83.4 L203.9,82.9 L205.6,83.0 L207.2,83.4 L208.8,83.3 L210.4,82.9 L212.5,81.8 L215.7,79.7 L217.3,78.9 L219.0,78.6 L221.1,77.5 L223.3,75.9 L225.4,75.4 L228.6,77.0 L230.8,72.1 L231.8,71.1 L233.4,71.9 L235.1,72.7 L236.7,71.9 L238.3,71.6 L241.5,72.7 L243.6,71.1 L246.0,69.7 L249.2,67.5 L250.8,66.3 L252.4,65.4 L254.6,64.0 L256.7,62.7 L258.9,62.4 L261.0,61.6 L263.1,61.2 L265.3,60.6 L267.5,60.0 L269.6,60.0 L271.8,59.3 L273.9,58.9 L276.0,58.4 L278.2,58.4 L281.4,58.4 L283.0,57.9 L284.6,56.8 L286.8,56.5 L288.9,55.7 L291.0,55.4 L293.2,54.7 L295.4,53.8 L297.5,52.5 L299.6,52.1 L301.8,51.4 L304.0,51.5 L306.1,50.9 L308.2,50.6 L310.4,49.8 L312.2,49.5 L313.9,49.7 L315.7,49.3 L317.5,49.1 L319.3,49.1 L321.1,48.8 L322.9,48.5 L324.7,48.0 L326.5,47.7 L328.3,47.2 L330.0,46.9 L331.8,46.6 L333.6,46.4 L335.4,46.1 L337.2,46.3 L339.0,46.6 L340.8,46.7 L342.6,46.6 L344.4,46.8 L346.1,46.5 L347.9,46.3 L349.7,46.1 L351.3,46.2 L352.9,45.7 L354.5,46.0 L356.1,45.8 L357.7,45.5 L359.3,45.7 L360.9,45.3 L362.5,45.4 L364.1,45.2 L365.7,44.9 L367.4,44.8 L369.0,44.7 L370.6,44.7 L372.2,44.6 L373.8,44.3 L375.4,44.6 L377.0,44.3 L378.6,44.5 L380.2,44.3 L381.8,44.2 L383.5,44.3 L385.1,44.0 L386.7,44.4 L388.3,44.2 L389.9,44.5 L391.5,44.2 L393.1,44.4 L394.7,44.6 L396.3,44.0 L398.0,44.1 L399.6,44.6 L401.2,44.6 L402.8,44.5 L404.4,44.2 L406.0,44.4 L407.6,44.5 L409.3,44.8 L411.0,44.9 L412.7,45.0 L414.4,44.6 L416.0,45.2 L417.7,44.9 L419.4,45.3 L421.1,45.2" stroke="#3333f2" stroke-width="1.5" fill="none" stroke-linejoin="round"/>
<path d="M48.2,282.0 L49.5,264.0 L51.0,239.0 L52.9,211.0 L53.7,201.3 L54.2,191.9 L54.6,179.0 L55.0,174.8 L55.6,171.7 L57.2,167.9 L58.9,161.9 L60.0,154.3 L60.8,149.0 L61.5,144.0 L62.6,137.6 L64.8,132.2 L66.9,128.0 L68.5,123.7 L70.1,124.7 L71.8,120.4 L73.9,116.7 L75.5,114.0 L78.2,108.7 L81.4,104.9 L83.0,104.4 L84.6,105.5 L86.2,105.5 L87.8,109.8 L90.0,112.4 L91.1,117.2 L92.7,120.4 L94.3,122.0 L96.4,121.0 L98.6,122.6 L100.2,125.3 L101.3,127.4 L102.3,125.8 L103.9,119.4 L105.5,115.4 L107.2,110.8 L108.8,109.8 L110.4,110.3 L112.5,109.2 L114.1,107.6 L115.7,106.5 L117.3,105.8 L119.0,104.9 L121.1,103.3 L122.7,104.4 L125.4,107.6 L128.6,111.4 L130.2,113.1 L131.8,114.6 L133.4,114.1 L135.1,113.0 L136.7,112.6 L138.3,112.4 L141.5,114.0 L143.6,113.5 L146.0,111.9 L147.7,111.2 L149.4,110.8 L152.4,109.0 L156.7,102.3 L161.0,95.8 L164.2,90.5 L166.4,87.2 L168.5,87.8 L170.2,87.4 L171.8,86.7 L175.0,85.1 L178.2,83.5 L179.8,83.3 L181.4,82.9 L184.6,83.5 L186.8,82.4 L188.9,81.3 L191.1,82.9 L193.2,85.6 L195.4,83.5 L197.5,84.0 L199.6,81.3 L201.8,79.7 L204.5,77.6 L207.2,79.2 L208.8,79.3 L210.4,79.7 L212.5,80.8 L214.7,81.9 L216.8,81.3 L220.0,82.4 L221.7,82.8 L223.3,82.9 L226.5,82.4 L229.7,80.3 L231.8,79.2 L233.9,78.9 L236.1,78.7 L238.2,78.3 L240.4,77.6 L242.3,76.9 L244.1,76.5 L246.0,76.2 L247.8,76.4 L249.6,76.1 L251.4,76.2 L253.2,76.2 L254.9,76.7 L256.7,76.7 L258.4,77.3 L260.0,77.8 L262.1,80.5 L263.7,81.0 L265.3,79.4 L266.9,78.3 L268.5,80.5 L270.1,78.9 L272.8,77.3 L275.0,76.7 L278.2,77.3 L281.4,76.2 L283.3,75.7 L285.1,75.7 L287.0,75.5 L288.9,75.1 L290.7,74.7 L292.5,74.8 L294.2,74.3 L296.0,74.3 L297.8,73.9 L299.6,74.0 L301.4,73.7 L303.2,74.0 L305.0,73.4 L306.8,73.6 L308.6,73.1 L310.4,73.0 L312.2,72.9 L314.0,72.9 L315.8,72.7 L317.5,72.2 L319.3,72.3 L321.1,72.1 L322.9,72.1 L324.7,71.7 L326.5,71.5 L328.2,71.9 L330.0,71.5 L331.8,71.4 L333.6,71.1 L335.4,71.1 L337.1,70.8 L338.9,71.0 L340.7,70.7 L342.4,70.3 L344.2,70.6 L346.0,70.3 L347.8,70.0 L349.5,70.0 L351.2,69.7 L353.0,70.0 L354.8,69.6 L356.5,69.7 L358.2,69.4 L360.0,69.5 L361.7,69.4 L363.3,69.5 L365.0,69.4 L366.7,69.3 L368.4,69.3 L370.0,69.2 L371.7,69.3 L373.4,68.9 L375.0,69.1 L376.7,69.1 L378.3,68.9 L380.0,69.3 L381.6,69.3 L383.2,68.7 L384.8,68.7 L386.5,69.0 L388.1,68.9 L389.7,68.5 L391.3,68.9 L393.0,69.0 L394.6,68.7 L396.2,68.6 L397.8,68.7 L399.5,68.9 L401.1,68.6 L402.8,68.4 L404.6,68.4 L406.3,68.3 L408.0,68.5 L409.8,68.4 L411.5,68.3 L413.2,68.3 L415.0,68.1 L416.7,68.2 L418.4,68.6 L420.2,68.3 L421.9,68.2 L421.9,70.2 L420.2,70.3 L418.4,70.6 L416.7,70.2 L415.0,70.1 L413.2,70.3 L411.5,70.3 L409.8,70.4 L408.0,70.5 L406.3,70.3 L404.6,70.4 L402.8,70.4 L401.1,70.6 L399.5,70.9 L397.8,70.7 L396.2,70.6 L394.6,70.7 L393.0,71.0 L391.3,70.9 L389.7,70.5 L388.1,70.9 L386.5,71.0 L384.8,70.7 L383.2,70.7 L381.6,71.3 L380.0,71.3 L378.3,70.9 L376.7,71.1 L375.0,71.1 L373.4,70.9 L371.7,71.3 L370.0,71.2 L368.4,71.3 L366.7,71.3 L365.0,71.4 L363.3,71.5 L361.7,71.4 L360.0,71.5 L358.2,71.4 L356.5,71.7 L354.8,71.6 L353.0,72.0 L351.2,71.7 L349.5,72.0 L347.8,72.0 L346.0,72.3 L344.2,72.6 L342.4,72.3 L340.7,72.7 L338.9,73.0 L337.1,72.8 L335.4,73.1 L333.6,73.1 L331.8,73.4 L330.0,73.5 L328.2,73.9 L326.5,73.5 L324.7,73.7 L322.9,74.1 L321.1,74.1 L319.3,74.3 L317.5,74.2 L315.8,74.7 L314.0,74.9 L312.2,74.9 L310.4,75.0 L308.6,75.1 L306.8,75.6 L305.0,75.4 L303.2,76.0 L301.4,75.7 L299.6,76.0 L297.8,75.9 L296.0,76.3 L294.2,76.3 L292.5,76.8 L290.7,76.7 L288.9,77.1 L287.0,77.5 L285.1,77.7 L283.3,77.7 L281.4,78.2 L278.2,79.3 L275.0,78.7 L272.8,79.3 L270.1,80.9 L268.5,82.5 L266.9,80.3 L265.3,81.4 L263.7,83.0 L262.1,82.5 L260.0,79.8 L258.4,79.3 L256.7,78.7 L254.9,78.7 L253.2,78.2 L251.4,78.2 L249.6,78.1 L247.8,78.4 L246.0,78.2 L244.1,78.5 L242.3,78.9 L240.4,79.6 L238.2,80.3 L236.1,80.7 L233.9,80.9 L231.8,81.2 L229.7,82.3 L226.5,84.4 L223.3,84.9 L221.7,84.8 L220.0,84.4 L216.8,83.3 L214.7,83.9 L212.5,82.8 L210.4,81.7 L208.8,81.3 L207.2,81.2 L204.5,79.6 L201.8,81.7 L199.6,83.3 L197.5,86.0 L195.4,85.5 L193.2,87.6 L191.1,84.9 L188.9,83.3 L186.8,84.4 L184.6,85.5 L181.4,84.9 L179.8,85.3 L178.2,85.5 L175.0,87.1 L171.8,88.7 L170.2,89.4 L168.5,89.8 L166.4,89.2 L164.2,92.5 L161.0,97.8 L156.7,104.3 L152.4,111.0 L149.4,112.8 L147.7,113.2 L146.0,113.9 L143.6,115.5 L141.5,116.0 L138.3,114.4 L136.7,114.6 L135.1,115.0 L133.4,116.1 L131.8,116.6 L130.2,115.1 L128.6,113.4 L125.4,109.6 L122.7,106.4 L121.1,105.3 L119.0,106.9 L117.3,107.8 L115.7,108.5 L114.1,109.6 L112.5,111.2 L110.4,112.3 L108.8,111.8 L107.2,112.8 L105.5,117.4 L103.9,121.4 L102.3,127.8 L101.3,129.4 L100.2,127.3 L98.6,124.6 L96.4,123.0 L94.3,124.0 L92.7,122.4 L91.1,119.2 L90.0,114.4 L87.8,111.8 L86.2,107.5 L84.6,107.5 L83.0,106.4 L81.4,106.9 L78.2,110.7 L75.5,116.0 L73.9,118.7 L71.8,122.4 L70.1,126.7 L68.5,125.7 L66.9,130.0 L64.8,134.2 L62.6,139.6 L61.5,146.0 L60.8,151.0 L60.0,156.3 L58.9,163.9 L57.2,169.9 L55.6,173.7 L55.0,176.8 L54.6,181.0 L54.2,193.9 L53.7,203.3 L52.9,213.0 L51.0,241.0 L49.5,266.0 L48.2,284.0 Z" fill="#bdf5cc"/>
<path d="M48.2,283.0 L49.5,265.0 L51.0,240.0 L52.9,212.0 L53.7,202.3 L54.2,192.9 L54.6,180.0 L55.0,175.8 L55.6,172.7 L57.2,168.9 L58.9,162.9 L60.0,155.3 L60.8,150.0 L61.5,145.0 L62.6,138.6 L64.8,133.2 L66.9,129.0 L68.5,124.7 L70.1,125.7 L71.8,121.4 L73.9,117.7 L75.5,115.0 L78.2,109.7 L81.4,105.9 L83.0,105.4 L84.6,106.5 L86.2,106.5 L87.8,110.8 L90.0,113.4 L91.1,118.2 L92.7,121.4 L94.3,123.0 L96.4,122.0 L98.6,123.6 L100.2,126.3 L101.3,128.4 L102.3,126.8 L103.9,120.4 L105.5,116.4 L107.2,111.8 L108.8,110.8 L110.4,111.3 L112.5,110.2 L114.1,108.6 L115.7,107.5 L117.3,106.8 L119.0,105.9 L121.1,104.3 L122.7,105.4 L125.4,108.6 L128.6,112.4 L130.2,114.1 L131.8,115.6 L133.4,115.1 L135.1,114.0 L136.7,113.6 L138.3,113.4 L141.5,115.0 L143.6,114.5 L146.0,112.9 L147.7,112.2 L149.4,111.8 L152.4,110.0 L156.7,103.3 L161.0,96.8 L164.2,91.5 L166.4,88.2 L168.5,88.8 L170.2,88.4 L171.8,87.7 L175.0,86.1 L178.2,84.5 L179.8,84.3 L181.4,83.9 L184.6,84.5 L186.8,83.4 L188.9,82.3 L191.1,83.9 L193.2,86.6 L195.4,84.5 L197.5,85.0 L199.6,82.3 L201.8,80.7 L204.5,78.6 L207.2,80.2 L208.8,80.3 L210.4,80.7 L212.5,81.8 L214.7,82.9 L216.8,82.3 L220.0,83.4 L221.7,83.8 L223.3,83.9 L226.5,83.4 L229.7,81.3 L231.8,80.2 L233.9,79.9 L236.1,79.7 L238.2,79.3 L240.4,78.6 L242.3,77.9 L244.1,77.5 L246.0,77.2 L247.8,77.4 L249.6,77.1 L251.4,77.2 L253.2,77.2 L254.9,77.7 L256.7,77.7 L258.4,78.3 L260.0,78.8 L262.1,81.5 L263.7,82.0 L265.3,80.4 L266.9,79.3 L268.5,81.5 L270.1,79.9 L272.8,78.3 L275.0,77.7 L278.2,78.3 L281.4,77.2 L283.3,76.7 L285.1,76.7 L287.0,76.5 L288.9,76.1 L290.7,75.7 L292.5,75.8 L294.2,75.3 L296.0,75.3 L297.8,74.9 L299.6,75.0 L301.4,74.7 L303.2,75.0 L305.0,74.4 L306.8,74.6 L308.6,74.1 L310.4,74.0 L312.2,73.9 L314.0,73.9 L315.8,73.7 L317.5,73.2 L319.3,73.3 L321.1,73.1 L322.9,73.1 L324.7,72.7 L326.5,72.5 L328.2,72.9 L330.0,72.5 L331.8,72.4 L333.6,72.1 L335.4,72.1 L337.1,71.8 L338.9,72.0 L340.7,71.7 L342.4,71.3 L344.2,71.6 L346.0,71.3 L347.8,71.0 L349.5,71.0 L351.2,70.7 L353.0,71.0 L354.8,70.6 L356.5,70.7 L358.2,70.4 L360.0,70.5 L361.7,70.4 L363.3,70.5 L365.0,70.4 L366.7,70.3 L368.4,70.3 L370.0,70.2 L371.7,70.3 L373.4,69.9 L375.0,70.1 L376.7,70.1 L378.3,69.9 L380.0,70.3 L381.6,70.3 L383.2,69.7 L384.8,69.7 L386.5,70.0 L388.1,69.9 L389.7,69.5 L391.3,69.9 L393.0,70.0 L394.6,69.7 L396.2,69.6 L397.8,69.7 L399.5,69.9 L401.1,69.6 L402.8,69.4 L404.6,69.4 L406.3,69.3 L408.0,69.5 L409.8,69.4 L411.5,69.3 L413.2,69.3 L415.0,69.1 L416.7,69.2 L418.4,69.6 L420.2,69.3 L421.9,69.2" stroke="#00e23c" stroke-width="1.5" fill="none" stroke-linejoin="round"/>
<g stroke="#8a8a8a" stroke-width="1.4" fill="none">
<path d="M46.3,32.799999999999955 V316.9 H451.69"/>
<path d="M46.3,316.9 h4"/>
<path d="M46.3,269.5 h4"/>
<path d="M46.3,222.2 h4"/>
<path d="M46.3,174.8 h4"/>
<path d="M46.3,127.5 h4"/>
<path d="M46.3,80.1 h4"/>
<path d="M46.3,32.8 h4"/>
<path d="M46.3,316.9 v-4"/>
<path d="M113.9,316.9 v-4"/>
<path d="M181.4,316.9 v-4"/>
<path d="M249.0,316.9 v-4"/>
<path d="M316.6,316.9 v-4"/>
<path d="M384.1,316.9 v-4"/>
<path d="M451.7,316.9 v-4"/>
</g>
<g font-size="15.2" fill="#262626">
<text x="23.08" y="322.6" textLength="16.12" lengthAdjust="spacingAndGlyphs">40</text>
<text x="23.08" y="275.2" textLength="16.12" lengthAdjust="spacingAndGlyphs">50</text>
<text x="23.08" y="227.9" textLength="16.12" lengthAdjust="spacingAndGlyphs">60</text>
<text x="23.08" y="180.5" textLength="16.12" lengthAdjust="spacingAndGlyphs">70</text>
<text x="23.08" y="133.2" textLength="16.12" lengthAdjust="spacingAndGlyphs">80</text>
<text x="23.08" y="85.8" textLength="16.12" lengthAdjust="spacingAndGlyphs">90</text>
<text x="15.02" y="38.5" textLength="24.18" lengthAdjust="spacingAndGlyphs">100</text>
<text x="42.27" y="338.0" textLength="8.06" lengthAdjust="spacingAndGlyphs">0</text>
<text x="105.80" y="338.0" textLength="16.12" lengthAdjust="spacingAndGlyphs">50</text>
<text x="169.34" y="338.0" textLength="24.18" lengthAdjust="spacingAndGlyphs">100</text>
<text x="236.91" y="338.0" textLength="24.18" lengthAdjust="spacingAndGlyphs">150</text>
<text x="304.47" y="338.0" textLength="24.18" lengthAdjust="spacingAndGlyphs">200</text>
<text x="372.04" y="338.0" textLength="24.18" lengthAdjust="spacingAndGlyphs">250</text>
<text x="439.60" y="338.0" textLength="24.18" lengthAdjust="spacingAndGlyphs">300</text>
</g>
<g fill="none" stroke-linejoin="round">
<path d="M522.2,276.8 L529.5,276.8 L530.7,236.2 L533.8,236.2 L535.5,276.8 L536.7,236.2 L540.4,236.2 L543.5,154.6 L587.5,154.6 L589.1,113.4 L590.5,154.6 L678.7,154.6 L679.5,195.1 L680.4,154.6 L681.4,195.1 L693.1,195.1 L694.3,154.6 L706.0,154.6 L707.6,195.1 L708.7,154.6 L710.0,195.1 L711.3,154.6 L712.4,154.6 L714.0,195.1 L721.3,195.1 L722.6,154.6 L724.2,195.1 L726.9,195.1 L728.5,154.6 L748.7,154.6 L749.9,113.6 L751.0,154.6 L752.3,113.6 L753.6,154.6 L790.8,154.6 L791.8,113.6 L800.0,113.6" stroke="#ff10ff" stroke-width="1.8"/>
</g>
<path d="M522.2,275.2 L524.2,275.9 L526.3,273.7 L528.3,273.4 L530.0,234.1 L531.9,198.7 L533.8,178.6 L535.3,157.8 L536.9,142.8 L538.5,131.0 L540.9,123.9 L543.3,116.3 L545.7,111.6 L548.9,104.8 L551.0,101.7 L553.3,96.1 L555.5,95.5 L557.8,94.7 L560.0,95.1 L562.5,93.1 L565.0,92.7 L567.9,92.3 L570.8,90.0 L573.4,89.1 L576.0,89.3 L578.9,87.9 L581.8,87.5 L583.9,85.9 L585.9,85.0 L588.0,84.7 L590.0,83.2 L592.0,82.6 L594.0,80.4 L596.1,79.8 L597.6,79.0 L599.6,78.9 L601.6,78.9 L603.6,78.3 L607.0,79.3 L609.6,76.8 L611.9,76.2 L615.0,76.8 L618.0,79.5 L620.1,79.4 L622.3,79.9 L624.4,79.6 L626.6,79.2 L628.8,80.3 L630.9,79.4 L633.0,79.8 L635.2,79.6 L637.3,79.5 L639.5,80.1 L641.6,79.6 L643.8,79.2 L645.9,79.1 L648.1,79.2 L650.2,78.6 L652.4,80.2 L654.5,78.9 L656.6,78.7 L658.8,79.3 L660.9,79.8 L663.1,79.9 L665.2,79.3 L667.4,79.8 L669.5,80.0 L671.7,79.6 L673.8,79.4 L676.0,78.7 L678.1,78.8 L680.2,78.9 L682.4,79.3 L684.6,78.9 L686.7,78.9 L688.8,80.4 L691.0,79.0 L693.1,79.9 L695.3,80.2 L697.4,79.6 L699.5,79.4 L701.7,81.1 L703.8,81.5 L706.0,81.9 L708.1,83.0 L710.5,84.1 L713.0,84.8 L715.5,85.4 L717.9,85.3 L720.5,88.3 L723.0,90.2 L725.5,89.2 L728.1,90.9 L730.6,89.7 L733.2,90.3 L735.7,90.8 L738.3,93.2 L740.8,92.7 L743.4,94.2 L745.9,95.8 L748.5,96.0 L751.0,96.9 L753.6,97.4 L756.1,96.9 L758.7,98.3 L761.2,99.3 L763.8,99.4 L766.3,100.7 L768.9,100.5 L771.4,101.5 L774.0,102.2 L776.5,102.6 L778.6,101.8 L780.8,101.9 L782.9,101.5 L785.0,103.3 L787.2,102.8 L789.3,102.6 L791.8,102.9 L794.4,104.0 L796.9,105.2 L799.5,105.3 L802.0,106.5 L804.6,107.0 L807.1,107.1 L809.7,107.0 L812.2,107.6 L814.8,107.8 L817.3,108.7 L819.4,108.1 L821.4,109.4 L823.5,106.7 L825.5,107.6 L827.6,108.5 L829.7,107.6 L831.8,108.3 L834.0,108.4 L836.1,109.3 L838.2,108.8 L840.3,108.3 L842.4,109.0 L844.6,109.4 L846.7,109.2 L848.8,107.9 L851.0,108.5 L853.1,108.8 L855.5,109.1 L857.9,109.5 L860.2,109.1 L862.6,110.8 L865.0,110.4 L867.3,110.0 L869.5,110.6 L871.8,110.0 L874.1,111.1 L876.3,110.8 L878.6,110.4 L881.0,111.2 L883.3,111.7 L885.6,111.2 L888.0,111.8 L890.4,111.4 L892.9,112.2 L895.3,112.7 L897.7,112.8 L897.7,114.6 L895.3,113.9 L892.9,113.9 L890.4,114.2 L888.0,114.0 L885.6,114.0 L883.3,114.7 L881.0,114.9 L878.6,114.2 L876.3,115.0 L874.1,113.8 L871.8,113.3 L869.5,114.6 L867.3,114.8 L865.0,114.7 L862.6,113.6 L860.2,114.0 L857.9,113.2 L855.5,114.9 L853.1,114.8 L851.0,114.4 L848.8,113.9 L846.7,113.1 L844.6,113.8 L842.4,114.2 L840.3,113.6 L838.2,113.5 L836.1,114.5 L834.0,114.4 L831.8,114.5 L829.7,113.8 L827.6,113.7 L825.5,114.2 L823.5,113.8 L821.4,115.1 L819.4,114.4 L817.3,115.4 L814.8,114.1 L812.2,113.6 L809.7,114.4 L807.1,114.7 L804.6,113.5 L802.0,113.5 L799.5,111.8 L796.9,112.9 L794.4,113.2 L791.8,112.4 L789.3,109.8 L787.2,112.0 L785.0,110.7 L782.9,110.2 L780.8,110.6 L778.6,109.8 L776.5,110.6 L774.0,111.0 L771.4,111.1 L768.9,110.6 L766.3,111.6 L763.8,109.1 L761.2,109.2 L758.7,108.9 L756.1,107.4 L753.6,107.6 L751.0,107.0 L748.5,106.9 L745.9,105.9 L743.4,105.7 L740.8,105.2 L738.3,103.6 L735.7,103.2 L733.2,102.5 L730.6,101.4 L728.1,101.9 L725.5,101.7 L723.0,102.7 L720.5,99.5 L717.9,98.2 L715.5,98.0 L713.0,98.0 L710.5,96.8 L708.1,95.5 L706.0,95.8 L703.8,94.2 L701.7,94.3 L699.5,93.8 L697.4,93.9 L695.3,93.7 L693.1,94.5 L691.0,93.9 L688.8,94.1 L686.7,93.2 L684.6,93.1 L682.4,94.3 L680.2,92.1 L678.1,92.8 L676.0,92.6 L673.8,94.2 L671.7,93.2 L669.5,94.1 L667.4,93.6 L665.2,93.4 L663.1,93.4 L660.9,93.5 L658.8,93.5 L656.6,92.9 L654.5,92.0 L652.4,93.7 L650.2,92.5 L648.1,92.7 L645.9,92.6 L643.8,92.4 L641.6,92.4 L639.5,93.2 L637.3,93.9 L635.2,92.7 L633.0,92.8 L630.9,93.2 L628.8,92.5 L626.6,91.9 L624.4,92.2 L622.3,92.5 L620.1,92.0 L618.0,91.8 L615.0,90.6 L611.9,88.1 L609.6,90.5 L607.0,91.7 L603.6,92.5 L601.6,92.9 L599.6,91.2 L597.6,91.3 L596.1,91.7 L594.0,93.6 L592.0,93.8 L590.0,95.4 L588.0,96.6 L585.9,97.4 L583.9,96.6 L581.8,97.8 L578.9,99.2 L576.0,99.9 L573.4,99.0 L570.8,101.2 L567.9,101.8 L565.0,101.1 L562.5,101.6 L560.0,102.1 L557.8,104.3 L555.5,103.9 L553.3,104.0 L551.0,108.0 L548.9,112.8 L545.7,117.2 L543.3,121.9 L540.9,129.1 L538.5,135.8 L536.9,147.5 L535.3,161.4 L533.8,182.2 L531.9,201.2 L530.0,238.2 L528.3,275.7 L526.3,276.1 L524.2,277.2 L522.2,278.3 Z" fill="#fbcccc"/>
<path d="M791.8,113.7 H897.7" stroke="#8a9a8a" stroke-width="2" fill="none"/>
<path d="M522.2,276.8 L524.2,276.8 L526.3,274.8 L528.3,274.9 L530.0,236.2 L531.9,200.0 L533.8,180.0 L535.3,159.8 L536.9,145.0 L538.5,133.8 L540.9,127.3 L543.3,119.3 L545.7,114.5 L548.9,108.8 L551.0,104.8 L553.3,100.3 L555.5,99.9 L557.8,99.5 L560.0,98.5 L562.5,97.1 L565.0,96.6 L567.9,96.8 L570.8,95.6 L573.4,94.3 L576.0,94.4 L578.9,93.8 L581.8,92.2 L583.9,91.7 L585.9,91.2 L588.0,90.0 L590.0,89.7 L592.0,88.0 L594.0,86.6 L596.1,86.0 L597.6,85.6 L599.6,85.4 L601.6,85.9 L603.6,85.6 L607.0,85.2 L609.6,83.8 L611.9,82.3 L615.0,83.8 L618.0,85.3 L620.1,85.4 L622.3,86.1 L624.4,85.8 L626.6,85.7 L628.8,86.6 L630.9,86.6 L633.0,86.5 L635.2,85.7 L637.3,86.7 L639.5,86.1 L641.6,85.7 L643.8,86.1 L645.9,86.0 L648.1,86.0 L650.2,85.5 L652.4,86.2 L654.5,85.9 L656.6,86.2 L658.8,86.7 L660.9,86.3 L663.1,86.0 L665.2,86.1 L667.4,86.6 L669.5,86.8 L671.7,86.1 L673.8,86.7 L676.0,85.4 L678.1,85.6 L680.2,85.6 L682.4,86.7 L684.6,86.4 L686.7,86.1 L688.8,86.6 L691.0,86.2 L693.1,86.8 L695.3,87.5 L697.4,87.2 L699.5,87.1 L701.7,87.5 L703.8,87.9 L706.0,88.9 L708.1,89.4 L710.5,90.5 L713.0,90.7 L715.5,91.1 L717.9,91.9 L720.5,93.8 L723.0,95.7 L725.5,95.3 L728.1,96.3 L730.6,95.7 L733.2,96.4 L735.7,97.1 L738.3,98.3 L740.8,98.9 L743.4,100.4 L745.9,100.8 L748.5,101.0 L751.0,102.2 L753.6,102.1 L756.1,102.7 L758.7,103.7 L761.2,104.6 L763.8,104.4 L766.3,106.0 L768.9,105.9 L771.4,106.5 L774.0,106.2 L776.5,106.4 L778.6,105.9 L780.8,106.4 L782.9,106.2 L785.0,106.9 L787.2,107.0 L789.3,106.4 L791.8,107.8 L794.4,108.5 L796.9,108.6 L799.5,108.7 L802.0,109.7 L804.6,110.5 L807.1,110.9 L809.7,110.5 L812.2,110.5 L814.8,111.5 L817.3,112.0 L819.4,111.7 L821.4,112.2 L823.5,110.6 L825.5,110.4 L827.6,110.8 L829.7,111.4 L831.8,111.1 L834.0,111.0 L836.1,111.6 L838.2,111.4 L840.3,111.4 L842.4,111.7 L844.6,111.2 L846.7,111.0 L848.8,111.0 L851.0,111.5 L853.1,111.8 L855.5,112.1 L857.9,111.8 L860.2,111.8 L862.6,112.2 L865.0,112.1 L867.3,112.5 L869.5,112.4 L871.8,112.0 L874.1,112.8 L876.3,112.9 L878.6,112.5 L881.0,113.2 L883.3,113.3 L885.6,112.2 L888.0,113.0 L890.4,113.3 L892.9,113.0 L895.3,113.1 L897.7,113.4" stroke="#f23a3a" stroke-width="1.5" fill="none" stroke-linejoin="round"/>
<path d="M522.2,276.2 L526.9,197.4 L527.9,147.0 L528.8,123.5 L530.5,119.2 L532.1,115.9 L533.7,112.4 L535.3,106.4 L536.1,103.7 L537.7,106.2 L539.3,106.1 L540.9,107.1 L542.5,106.5 L544.1,103.6 L545.0,102.4 L546.9,103.3 L548.8,103.9 L550.5,104.0 L553.3,102.5 L554.8,100.7 L557.0,98.9 L558.5,97.2 L560.0,98.2 L562.3,95.4 L564.5,93.9 L566.8,92.6 L568.3,92.6 L569.8,92.0 L572.0,92.6 L573.5,93.0 L575.0,93.3 L576.6,94.4 L578.1,92.2 L580.3,93.1 L581.8,93.2 L583.3,93.0 L585.9,91.7 L587.8,90.5 L589.3,87.4 L590.1,84.7 L591.6,84.5 L593.1,85.0 L594.6,86.0 L596.1,88.5 L597.6,90.2 L599.1,91.8 L600.6,93.2 L602.1,97.2 L603.2,99.4 L604.2,99.8 L606.6,101.5 L608.2,102.6 L609.8,103.0 L611.5,104.8 L613.1,106.6 L614.7,105.8 L616.3,105.1 L617.9,104.2 L619.5,103.8 L621.1,104.1 L622.7,103.1 L624.3,103.6 L625.9,104.1 L627.5,103.9 L629.1,103.8 L630.7,104.0 L632.3,104.2 L634.0,104.5 L635.6,106.3 L637.2,106.3 L638.8,107.4 L640.4,107.4 L642.0,107.5 L643.6,108.3 L645.2,108.2 L646.8,108.6 L648.4,109.3 L650.0,109.7 L651.7,109.4 L653.3,109.5 L655.0,110.3 L656.7,109.6 L658.3,110.1 L660.0,110.9 L669.5,111.0 L672.0,111.3 L791.8,112.8 L791.8,114.5 L672.0,115.6 L669.5,114.3 L660.0,115.0 L658.3,114.6 L656.7,114.9 L655.0,115.4 L653.3,114.7 L651.7,114.5 L650.0,115.2 L648.4,115.0 L646.8,114.3 L645.2,114.3 L643.6,114.1 L642.0,113.0 L640.4,113.8 L638.8,113.7 L637.2,112.5 L635.6,111.6 L634.0,111.0 L632.3,110.1 L630.7,110.4 L629.1,110.0 L627.5,109.8 L625.9,109.9 L624.3,110.1 L622.7,109.0 L621.1,109.8 L619.5,110.0 L617.9,110.5 L616.3,111.2 L614.7,111.7 L613.1,113.0 L611.5,111.4 L609.8,109.2 L608.2,109.1 L606.6,107.6 L604.2,106.2 L603.2,105.2 L602.1,103.3 L600.6,99.7 L599.1,98.5 L597.6,97.0 L596.1,94.5 L594.6,93.1 L593.1,91.3 L591.6,91.1 L590.1,92.0 L589.3,93.7 L587.8,96.4 L585.9,99.1 L583.3,100.0 L581.8,99.8 L580.3,99.4 L578.1,98.9 L576.6,100.7 L575.0,99.9 L573.5,99.5 L572.0,98.9 L569.8,99.2 L568.3,98.8 L566.8,99.0 L564.5,100.0 L562.3,102.1 L560.0,105.4 L558.5,104.0 L557.0,105.7 L554.8,107.3 L553.3,109.1 L550.5,110.8 L548.8,110.2 L546.9,109.6 L545.0,108.8 L544.1,109.2 L542.5,113.3 L540.9,113.8 L539.3,112.3 L537.7,113.0 L536.1,109.4 L535.3,112.8 L533.7,118.6 L532.1,122.3 L530.5,125.8 L528.8,128.9 L527.9,152.6 L526.9,202.2 L522.2,277.8 Z" fill="#cdcdf8"/>
<path d="M522.2,276.8 L526.9,200.0 L527.9,150.0 L528.8,125.7 L530.5,122.5 L532.1,119.3 L533.7,115.3 L535.3,109.6 L536.1,106.4 L537.7,109.6 L539.3,108.8 L540.9,110.5 L542.5,109.6 L544.1,106.4 L545.0,105.5 L546.9,106.1 L548.8,107.0 L550.5,107.8 L553.3,105.5 L554.8,104.0 L557.0,102.5 L558.5,101.0 L560.0,101.4 L562.3,98.8 L564.5,96.9 L566.8,95.8 L568.3,95.6 L569.8,95.4 L572.0,95.8 L573.5,96.3 L575.0,96.9 L576.6,97.3 L578.1,95.8 L580.3,96.2 L581.8,96.2 L583.3,96.2 L585.9,95.4 L587.8,93.5 L589.3,90.5 L590.1,88.3 L591.6,88.2 L593.1,88.3 L594.6,89.8 L596.1,91.3 L597.6,93.5 L599.1,95.0 L600.6,96.5 L602.1,100.3 L603.2,102.2 L604.2,103.2 L606.6,104.8 L608.2,105.7 L609.8,106.4 L611.5,107.9 L613.1,109.7 L614.7,109.0 L616.3,108.1 L617.9,107.3 L619.5,107.3 L621.1,106.7 L622.7,106.4 L624.3,106.7 L625.9,107.3 L627.5,106.6 L629.1,106.4 L630.7,107.0 L632.3,107.3 L634.0,107.9 L635.6,108.9 L637.2,109.7 L638.8,110.3 L640.4,110.5 L642.0,110.6 L643.6,111.3 L645.2,111.3 L646.8,111.8 L648.4,112.0 L650.0,112.1 L651.7,111.9 L653.3,112.3 L655.0,112.6 L656.7,112.5 L658.3,112.5 L660.0,112.9 L669.5,112.6 L672.0,113.3 L791.8,113.5" stroke="#3333f2" stroke-width="1.5" fill="none" stroke-linejoin="round"/>
<path d="M522.2,275.8 L527.1,199.0 L528.0,159.0 L528.8,114.9 L529.6,113.4 L531.3,112.6 L532.9,112.4 L534.4,112.2 L536.0,111.8 L537.6,111.8 L539.2,111.3 L540.8,111.3 L542.4,111.1 L544.0,110.8 L545.7,110.6 L547.3,110.1 L549.0,110.0 L551.0,109.6 L553.0,110.3 L555.0,111.7 L557.0,111.9 L559.0,112.5 L561.0,112.2 L563.0,112.1 L565.0,111.5 L566.5,109.6 L568.2,108.2 L570.0,108.8 L571.5,109.5 L573.0,109.9 L574.6,109.4 L576.3,109.1 L577.9,109.3 L579.4,109.5 L581.0,109.8 L585.6,106.3 L588.6,96.6 L590.8,86.8 L593.1,75.5 L595.4,64.1 L597.0,59.5 L598.6,67.1 L599.1,74.6 L601.0,79.6 L602.8,90.5 L604.4,97.8 L605.9,99.7 L608.1,99.5 L610.4,103.1 L612.6,104.3 L614.7,109.4 L616.3,109.7 L617.9,109.8 L619.5,109.7 L621.1,110.1 L622.7,109.7 L624.3,110.0 L625.9,110.3 L627.5,110.4 L629.1,110.2 L630.7,110.6 L632.3,110.6 L634.0,110.9 L635.6,110.6 L637.2,110.9 L638.8,111.2 L640.4,111.1 L660.0,111.6 L700.0,112.0 L744.0,112.2 L745.9,111.3 L748.0,112.2 L791.8,112.4 L791.8,114.4 L748.0,114.2 L745.9,113.3 L744.0,114.2 L700.0,114.0 L660.0,113.6 L640.4,113.1 L638.8,113.3 L637.2,113.1 L635.6,113.0 L634.0,113.3 L632.3,113.2 L630.7,113.2 L629.1,113.0 L627.5,113.3 L625.9,113.3 L624.3,113.2 L622.7,112.9 L621.1,113.4 L619.5,113.1 L617.9,113.4 L616.3,113.4 L614.7,113.2 L612.6,108.3 L610.4,107.9 L608.1,105.5 L605.9,106.9 L604.4,105.8 L602.8,99.5 L601.0,89.4 L599.1,85.4 L598.6,78.3 L597.0,71.5 L595.4,74.9 L593.1,84.5 L590.8,94.2 L588.6,102.4 L585.6,109.7 L581.0,112.8 L579.4,112.4 L577.9,112.2 L576.3,111.9 L574.6,112.2 L573.0,112.7 L571.5,112.3 L570.0,111.6 L568.2,111.0 L566.5,112.4 L565.0,114.1 L563.0,114.7 L561.0,114.9 L559.0,115.1 L557.0,114.4 L555.0,114.3 L553.0,112.7 L551.0,112.0 L549.0,112.4 L547.3,112.5 L545.7,113.0 L544.0,113.2 L542.4,113.4 L540.8,113.6 L539.2,113.6 L537.6,114.1 L536.0,114.0 L534.4,114.4 L532.9,114.5 L531.3,114.8 L529.6,115.6 L528.8,117.1 L528.0,161.0 L527.1,201.0 L522.2,277.8 Z" fill="#bdf5cc"/>
<path d="M559.1,108.2 L562.8000000000001,113.7 L559.1,119.2 L555.4,113.7 Z" fill="none" stroke="#000" stroke-width="2.6"/>
<path d="M522.2,276.8 L527.1,200.0 L528.0,160.0 L528.8,116.0 L529.6,114.5 L531.3,113.7 L532.9,113.4 L534.4,113.3 L536.0,112.9 L537.6,113.0 L539.2,112.4 L540.8,112.5 L542.4,112.3 L544.0,112.0 L545.7,111.8 L547.3,111.3 L549.0,111.2 L551.0,110.8 L553.0,111.5 L555.0,113.0 L557.0,113.2 L559.0,113.8 L561.0,113.5 L563.0,113.4 L565.0,112.8 L566.5,111.0 L568.2,109.6 L570.0,110.2 L571.5,110.9 L573.0,111.3 L574.6,110.8 L576.3,110.5 L577.9,110.8 L579.4,110.9 L581.0,111.3 L585.6,108.0 L588.6,99.5 L590.8,90.5 L593.1,80.0 L595.4,69.5 L597.0,65.5 L598.6,72.7 L599.1,80.0 L601.0,84.5 L602.8,95.0 L604.4,101.8 L605.9,103.3 L608.1,102.5 L610.4,105.5 L612.6,106.3 L614.7,111.3 L616.3,111.5 L617.9,111.6 L619.5,111.4 L621.1,111.7 L622.7,111.3 L624.3,111.6 L625.9,111.8 L627.5,111.9 L629.1,111.6 L630.7,111.9 L632.3,111.9 L634.0,112.1 L635.6,111.8 L637.2,112.0 L638.8,112.2 L640.4,112.1 L660.0,112.6 L700.0,113.0 L744.0,113.2 L745.9,112.3 L748.0,113.2 L791.8,113.4" stroke="#00e23c" stroke-width="1.8" fill="none" stroke-linejoin="round"/>
<g stroke="#8a8a8a" stroke-width="1.4" fill="none">
<path d="M521.6,32.5 V317.0 H927.6"/>
<path d="M521.6,317.0 h4"/>
<path d="M521.6,276.4 h4"/>
<path d="M521.6,235.7 h4"/>
<path d="M521.6,195.1 h4"/>
<path d="M521.6,154.4 h4"/>
<path d="M521.6,113.8 h4"/>
<path d="M521.6,73.2 h4"/>
<path d="M521.6,32.5 h4"/>
<path d="M521.6,317.0 v-4"/>
<path d="M589.3,317.0 v-4"/>
<path d="M656.9,317.0 v-4"/>
<path d="M724.6,317.0 v-4"/>
<path d="M792.3,317.0 v-4"/>
<path d="M859.9,317.0 v-4"/>
<path d="M927.6,317.0 v-4"/>
</g>
<g font-size="15.2" fill="#262626">
<text x="506.54" y="322.4" textLength="8.06" lengthAdjust="spacingAndGlyphs">0</text>
<text x="506.54" y="281.8" textLength="8.06" lengthAdjust="spacingAndGlyphs">1</text>
<text x="506.54" y="241.1" textLength="8.06" lengthAdjust="spacingAndGlyphs">2</text>
<text x="506.54" y="200.5" textLength="8.06" lengthAdjust="spacingAndGlyphs">3</text>
<text x="506.54" y="159.8" textLength="8.06" lengthAdjust="spacingAndGlyphs">4</text>
<text x="506.54" y="119.2" textLength="8.06" lengthAdjust="spacingAndGlyphs">5</text>
<text x="506.54" y="78.6" textLength="8.06" lengthAdjust="spacingAndGlyphs">6</text>
<text x="506.54" y="37.9" textLength="8.06" lengthAdjust="spacingAndGlyphs">7</text>
<text x="517.57" y="338.0" textLength="8.06" lengthAdjust="spacingAndGlyphs">0</text>
<text x="581.21" y="338.0" textLength="16.12" lengthAdjust="spacingAndGlyphs">50</text>
<text x="644.84" y="338.0" textLength="24.18" lengthAdjust="spacingAndGlyphs">100</text>
<text x="712.50" y="338.0" textLength="24.18" lengthAdjust="spacingAndGlyphs">150</text>
<text x="780.17" y="338.0" textLength="24.18" lengthAdjust="spacingAndGlyphs">200</text>
<text x="847.83" y="338.0" textLength="24.18" lengthAdjust="spacingAndGlyphs">250</text>
<text x="915.50" y="338.0" textLength="24.18" lengthAdjust="spacingAndGlyphs">300</text>
</g>
<rect x="77.7" y="151.2" width="11.7" height="12" fill="#000"/>
<path d="M83.45,147.6 L87.2,151.6 L79.7,151.6 Z" fill="#000"/>
<path d="M82,154 L84.8,154 L83.4,156.7 Z" fill="#fff"/>
<path d="M79.9,158.2 L82.4,160 L80.8,161 Z" fill="#fff"/>
<path d="M87.2,158.2 L84.7,160 L86.3,161 Z" fill="#fff"/>
<g fill="#000">
<text x="2.2" y="17.1" font-size="22.5" font-weight="bold">A</text>
<text x="476.3" y="17.2" font-size="22.5" font-weight="bold">B</text>
<text x="70.82" y="19.8" font-size="17.5" textLength="31.24" lengthAdjust="spacingAndGlyphs">FMI</text>
<text x="106.94" y="19.8" font-size="17.5" textLength="124.21" lengthAdjust="spacingAndGlyphs">Phase-mapping</text>
<text x="237.19" y="19.8" font-size="17.5" textLength="111.93" lengthAdjust="spacingAndGlyphs">Performance:</text>
<text x="353.00" y="19.8" font-size="17.5" textLength="73.54" lengthAdjust="spacingAndGlyphs">Fe-Ga-Pd</text>
<text x="560.48" y="19.8" font-size="17.5" textLength="47.06" lengthAdjust="spacingAndGlyphs">Mean</text>
<text x="611.75" y="19.8" font-size="17.5" textLength="65.51" lengthAdjust="spacingAndGlyphs">Number</text>
<text x="683.54" y="19.8" font-size="17.5" textLength="17.74" lengthAdjust="spacingAndGlyphs">of</text>
<text x="705.04" y="19.8" font-size="17.5" textLength="45.68" lengthAdjust="spacingAndGlyphs">Phase</text>
<text x="757.15" y="19.8" font-size="17.5" textLength="64.22" lengthAdjust="spacingAndGlyphs">Regions</text>
<text x="152.83" y="371" font-size="17" textLength="72.28" lengthAdjust="spacingAndGlyphs">Iteration</text>
<text x="229.14" y="371" font-size="17" textLength="64.12" lengthAdjust="spacingAndGlyphs">number</text>
<text x="663.54" y="372" font-size="17" textLength="72.31" lengthAdjust="spacingAndGlyphs">Iteration</text>
<text x="739.84" y="372" font-size="17" textLength="64.12" lengthAdjust="spacingAndGlyphs">number</text>
<text transform="translate(14.4,236.1) rotate(-90)" x="-1.54" y="0" font-size="17.5" textLength="104.78" lengthAdjust="spacingAndGlyphs">Performance</text>
<text transform="translate(14.4,236.1) rotate(-90)" x="109.72" y="0" font-size="17.5" textLength="25.00" lengthAdjust="spacingAndGlyphs">[%]</text>
<text transform="translate(490.8,271.1) rotate(-90)" x="-1.53" y="0" font-size="17.5" textLength="64.79" lengthAdjust="spacingAndGlyphs">Number</text>
<text transform="translate(490.8,271.1) rotate(-90)" x="67.65" y="0" font-size="17.5" textLength="20.17" lengthAdjust="spacingAndGlyphs">of</text>
<text transform="translate(490.8,271.1) rotate(-90)" x="90.84" y="0" font-size="17.5" textLength="48.06" lengthAdjust="spacingAndGlyphs">Phase</text>
<text transform="translate(490.8,271.1) rotate(-90)" x="144.43" y="0" font-size="17.5" textLength="62.53" lengthAdjust="spacingAndGlyphs">Regions</text>
<text x="66.3" y="110.5" font-size="17.5">8</text>
<text x="276.2" y="56.2" font-size="17.5">7</text>
<text x="397.6" y="68.7" font-size="17.5">4</text>
<text x="202.9" y="131.8" font-size="17.5">3</text>
<text x="92.1" y="203.8" font-size="17.5">2</text>
<text x="306" y="177.4" font-size="17.5">1</text>
<text x="580" y="71.1" font-size="17.5">8</text>
<text x="627" y="104.4" font-size="17.5">7</text>
<text x="692.3" y="86.8" font-size="17.5">4</text>
<text x="551.7" y="134.6" font-size="17.5">6</text>
<text x="623" y="174" font-size="17.5">2</text>
<text x="96.86" y="164.5" font-size="17.5" textLength="9.56" lengthAdjust="spacingAndGlyphs">5</text>
<text x="111.68" y="164.5" font-size="17.5" textLength="13.52" lengthAdjust="spacingAndGlyphs">&amp;</text>
<text x="129.93" y="164.5" font-size="17.5" textLength="10.26" lengthAdjust="spacingAndGlyphs">6</text>
<rect x="302.2" y="213.2" width="44.6" height="10.5" fill="#bdf5cc"/>
<path d="M302.2,218.4 H346.8" stroke="#00e23c" stroke-width="1.8"/>
<rect x="302.2" y="236.6" width="44.6" height="10" fill="#cdcdf8"/>
<path d="M302.2,241.7 H346.8" stroke="#3333f2" stroke-width="1.8"/>
<text x="356.04" y="223.2" font-size="16.2" textLength="57.07" lengthAdjust="spacingAndGlyphs">CAMEO</text>
<text x="416.53" y="223.2" font-size="16.2" textLength="9.41" lengthAdjust="spacingAndGlyphs">8</text>
<text x="356.04" y="246.0" font-size="16.2" textLength="57.07" lengthAdjust="spacingAndGlyphs">CAMEO</text>
<text x="415.87" y="246.0" font-size="16.2" textLength="10.12" lengthAdjust="spacingAndGlyphs">7</text>
<text x="308.95" y="272" font-size="16.2" textLength="28.25" lengthAdjust="spacingAndGlyphs">1-6,</text>
<text x="340.79" y="272" font-size="16.2" textLength="27.09" lengthAdjust="spacingAndGlyphs">See</text>
<text x="372.15" y="272" font-size="16.2" textLength="40.03" lengthAdjust="spacingAndGlyphs">Table</text>
<text x="414.71" y="272" font-size="16.2" textLength="10.30" lengthAdjust="spacingAndGlyphs">1</text>
</g>
</svg></body></html>
